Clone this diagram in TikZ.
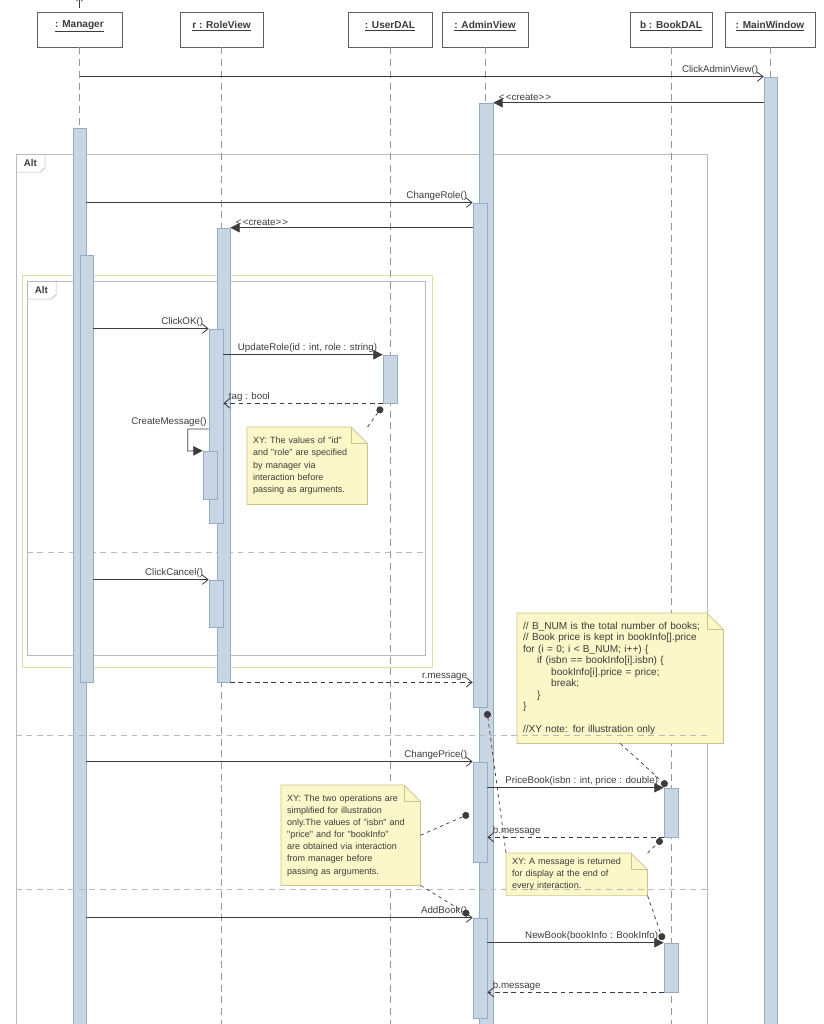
\documentclass[tikz,border=0pt]{standalone}
\usepackage{fontspec}
\setmainfont{Liberation Sans}
\usetikzlibrary{arrows.meta,fit,positioning}

\definecolor{barfill}{RGB}{200,214,228}
\definecolor{barline}{RGB}{150,172,196}
\definecolor{msgline}{RGB}{60,60,60}
\definecolor{lifegray}{RGB}{150,150,150}
\definecolor{framegray}{RGB}{185,185,185}
\definecolor{headline}{RGB}{95,95,95}
\definecolor{notefill}{RGB}{252,247,200}
\definecolor{notedraw}{RGB}{205,195,135}
\definecolor{altgreen}{RGB}{218,226,160}

\tikzset{
  head/.style={draw=headline, fill=white, inner sep=0pt, line width=0.6pt,
    font=\fontsize{8.6}{10}\selectfont\bfseries, text=msgline},
  lifeline/.style={draw=lifegray, dash pattern=on 6pt off 4pt, line width=0.5pt},
  actbar/.style={draw=barline, fill=barfill, inner sep=0pt, line width=0.5pt},
  call/.style={draw=msgline, line width=0.7pt, -{Straight Barb[length=5pt,width=8pt]}},
  syncall/.style={draw=msgline, line width=0.7pt, -{Triangle[length=8pt,width=8pt]}},
  reply/.style={draw=msgline, line width=0.7pt, dash pattern=on 4pt off 3pt,
    -{Straight Barb[length=5pt,width=8pt]}},
  lbl/.style={font=\fontsize{8.3}{9}\selectfont, text=msgline, inner sep=1.5pt},
  lblL/.style={lbl, above left, xshift=-3pt},
  lblR/.style={lbl, above right, xshift=3pt},
  note/.style={fill=notefill, inner xsep=5pt, inner ysep=4pt, align=left, anchor=north west,
    font=\fontsize{7.7}{10.4}\selectfont, text=msgline},
  codefont/.style={font=\fontsize{8.6}{9.8}\selectfont},
  notelink/.style={draw=msgline, dash pattern=on 3pt off 3pt, line width=0.6pt, -{Circle[length=6pt]}},
  framebox/.style={draw=framegray, inner sep=0pt, line width=0.6pt},
  altsep/.style={draw=framegray, dash pattern=on 5pt off 4pt, line width=0.6pt},
  tabtext/.style={minimum width=0.87cm, minimum height=0.54cm, inner sep=0pt,
    font=\fontsize{8.3}{9}\selectfont\bfseries, text=msgline}
}

% folded corner of a note
\newcommand{\dogear}[1]{%
  \fill[white] ([xshift=-5mm]#1.north east) -- (#1.north east) -- ([yshift=-5mm]#1.north east) -- cycle;
  \draw[notedraw, line width=0.6pt] (#1.north west) -- ([xshift=-5mm]#1.north east)
    -- ([yshift=-5mm]#1.north east) -- (#1.south east) -- (#1.south west) -- cycle;
  \draw[notedraw, line width=0.6pt] ([xshift=-5mm]#1.north east)
    -- ([xshift=-5mm,yshift=-5mm]#1.north east) -- ([yshift=-5mm]#1.north east);
}
% pentagon tab of a combined fragment
\newcommand{\alttab}[2]{%
  \node[tabtext, anchor=north west] (#1) at (#2.north west) {Alt};
  \draw[framebox] (#1.north east) -- ([yshift=4pt]#1.south east)
    -- ([xshift=-4pt]#1.south east) -- (#1.south west);
}
\newcommand{\crt}{<\kern1pt<create>\kern1pt>}
\newcommand{\qq}{\textquotedbl}

\begin{document}
\begin{tikzpicture}[x=0.03cm, y=-0.03cm]

  % Parameters
  \def\ybot{1030}

  \useasboundingbox (0,0) rectangle (824,1024);
  \clip (0,0) rectangle (824,1024);

  % Combined fragments
  \node[framebox, fit={(16,154) (707,\ybot)}] (altO) {};
  \alttab{altOtab}{altO}
  \node[draw=altgreen, line width=0.6pt, inner sep=0pt, fit={(22,275) (432,667)}] (altIg) {};
  \node[framebox, fill=white, fit={(27,281) (425,655)}] (altI) {};
  \alttab{altItab}{altI}
  \draw[altsep] (altI.west |- 0,552) -- (altI.east |- 0,552);

  % Lifeline heads
  \node[head, fit={(37,12) (122,47)}] (mgrH) {\underline{: Manager}};
  \node[head, fit={(180,12) (263,47)}] (rvH) {\underline{r : RoleView}};
  \node[head, fit={(348,12) (432,47)}] (udH) {\underline{: UserDAL}};
  \node[head, fit={(442,12) (528,47)}] (adH) {\underline{: AdminView}};
  \node[head, fit={(630,12) (712,47)}] (bkH) {\underline{b : BookDAL}};
  \node[head, fit={(725,12) (815,47)}] (mwH) {\underline{: MainWindow}};
  \draw[msgline, line width=0.6pt, -{Straight Barb[length=3pt,width=5pt]}]
    ([yshift=3pt]mgrH.north) -- ++(0,-11);

  \foreach \h in {mgrH,rvH,udH,adH,bkH,mwH}
    \draw[lifeline] (\h.south) -- (\h.south |- 0,\ybot);

  % Activation bars
  \node[actbar, fit={(73,128) (86,\ybot)}] (mgrA) {};
  \node[actbar, fit={(80,255) (93,682)}] (mgrB) {};
  \node[actbar, fit={(217,228) (230,682)}] (rvA) {};
  \node[actbar, fit={(209,329) (223,523)}] (rvB) {};
  \node[actbar, fit={(203,451) (217,499)}] (rvC) {};
  \node[actbar, fit={(209,580) (223,627)}] (rvD) {};
  \node[actbar, fit={(383,355) (397,403)}] (udA) {};
  \node[actbar, fit={(479,103) (493,\ybot)}] (adA) {};
  \node[actbar, fit={(473,203) (487,707)}] (adB) {};
  \node[actbar, fit={(473,762) (487,862)}] (adC) {};
  \node[actbar, fit={(473,918) (487,1018)}] (adD) {};
  \node[actbar, fit={(664,788) (678,837)}] (bkA) {};
  \node[actbar, fit={(664,943) (678,992)}] (bkB) {};
  \node[actbar, fit={(764,77) (777,\ybot)}] (mwA) {};

  % Messages
  \draw[call] (mgrH.south |- mwA.north) -- (mwA.north west)
    node[lblL] {ClickAdminView()};
  \draw[syncall] (mwA.west |- adA.north) -- (adA.north east)
    node[lblR] {\crt};
  \draw[call] (mgrA.east |- adB.north) -- (adB.north west)
    node[lblL] {ChangeRole()};
  \draw[syncall] (adB.west |- rvA.north) -- (rvA.north east)
    node[lblR] {\crt};
  \draw[call] (mgrB.east |- rvB.north) -- (rvB.north west)
    node[lblL] {ClickOK()};
  \draw[syncall] (rvB.east |- udA.north) -- (udA.north west)
    node[lblL] {UpdateRole(id : int, role : string)};
  \draw[reply] (udA.south west) -- (rvB.east |- udA.south)
    node[lblR] {tag : bool};
  \draw[syncall] (rvB.west |- 0,429) node[lbl, above left] {CreateMessage()}
    -- ++(-21,0) -- ++(0,22) -- (rvC.north west);
  \draw[call] (mgrB.east |- rvD.north) -- (rvD.north west)
    node[lblL] {ClickCancel()};
  \draw[reply] (rvA.south east) -- (adB.west |- rvA.south)
    node[lblL] {r.message};
  \draw[call] (mgrA.east |- adC.north) -- (adC.north west)
    node[lblL] {ChangePrice()};
  \draw[syncall] (adC.east |- bkA.north) -- (bkA.north west)
    node[lblL] {PriceBook(isbn : int, price : double)};
  \draw[reply] (bkA.south west) -- (adC.east |- bkA.south)
    node[lblR] {b.message};
  \draw[call] (mgrA.east |- adD.north) -- (adD.north west)
    node[lblL] {AddBook()};
  \draw[syncall] (adD.east |- bkB.north) -- (bkB.north west)
    node[lblL] {NewBook(bookInfo : BookInfo)};
  \draw[reply] (bkB.south west) -- (adD.east |- bkB.south)
    node[lblR] {b.message};

  % Notes
  \node[note, text width=3.25cm, minimum height=2.31cm] (nUpd) at (247,427)
    {XY: The values of \qq id\qq\\ and \qq role\qq\ are specified\\ by manager via\\
     interaction before\\ passing as arguments.};
  \dogear{nUpd}
  \node[note, codefont, text width=5.83cm, minimum height=3.9cm] (nCode) at (517,613)
    {// B\_NUM is the total number of books;\\
     // Book price is kept in bookInfo[].price\\
     for (i = 0; i < B\_NUM; i++) \{\\
     \hspace*{12pt}if (isbn == bookInfo[i].isbn) \{\\
     \hspace*{24pt}bookInfo[i].price = price;\\
     \hspace*{24pt}break;\\
     \hspace*{12pt}\}\\
     \}\\
     \mbox{}\\
     //XY note: for illustration only};
  \dogear{nCode}
  \node[note, text width=3.82cm, minimum height=3.0cm] (nOps) at (281,785)
    {XY: The two operations are\\ simplified for illustration\\
     only.The values of \qq isbn\qq\ and\\ \qq price\qq\ and for \qq bookInfo\qq\\
     are obtained via interaction\\ from manager before\\ passing as arguments.};
  \dogear{nOps}
  \node[note, text width=3.88cm, minimum height=1.17cm] (nMsg) at (506,853)
    {XY: A message is returned\\ for display at the end of\\ every interaction.};
  \dogear{nMsg}

  % Alternative separators
  \draw[altsep] (altO.west |- 0,735) -- (altO.east |- 0,735);
  \draw[altsep] (altO.west |- 0,889) -- (altO.east |- 0,889);

  % Note anchors
  \coordinate (d1) at (382,407);
  \coordinate (d2) at (487,711);
  \coordinate (d3) at (667,786);
  \coordinate (d4) at (469,814);
  \coordinate (d5) at (662,839);
  \coordinate (d6) at (469,915);
  \coordinate (d7) at (663,940);
  \draw[notelink] (nUpd.north east) -- (d1);
  \draw[notelink] (nCode.south) -- (d3);
  \draw[notelink] (nOps.east) -- (d4);
  \draw[notelink] (nOps.south east) -- (d6);
  \draw[notelink] (nMsg.north west) -- (d2);
  \draw[notelink] (nMsg.north east) -- (d5);
  \draw[notelink] (nMsg.south east) -- (d7);

\end{tikzpicture}
\end{document}
